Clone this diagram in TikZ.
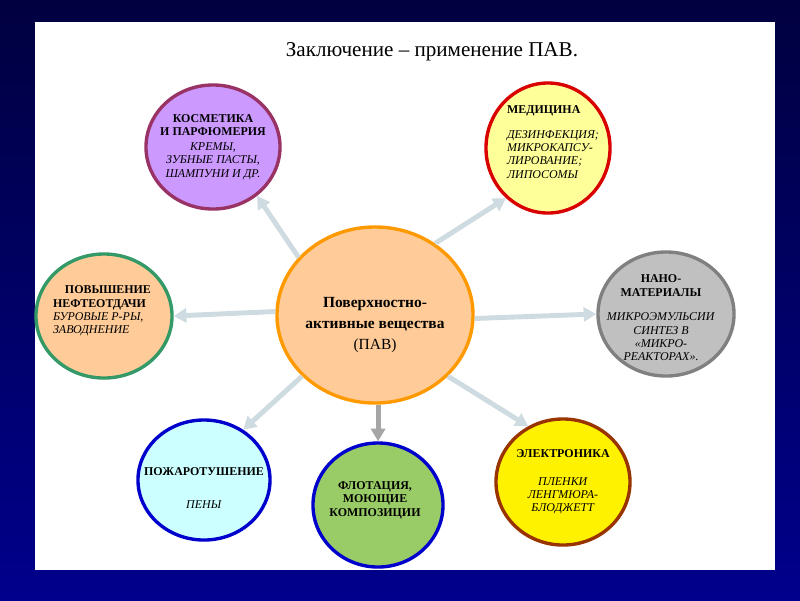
\documentclass[tikz,border=0pt]{standalone}
\usepackage{fontspec}
\setmainfont{Liberation Serif}
\usetikzlibrary{arrows.meta,shapes.geometric}

\begin{document}
\begin{tikzpicture}[
                        x=0.025cm,
                        y=-0.025cm,
                        font=\fontsize{8.5}{9.5}\selectfont,
                        field/.style={ellipse,line width=2.4pt,inner sep=0pt},
                        flow/.style={line width=3.5pt,draw=cyan!25!gray!35,
                                     -{Triangle[length=9pt,width=10pt]}},
                        txt/.style={align=center}
                    ]
                    % background and slide
                    \fill[top color=blue!25!black,bottom color=blue!55!black] (0,0) rectangle (800,600);
                    \fill[white] (35,22) rectangle (775,570);
                    \node (title) at (432,52) {\fontsize{15}{17}\selectfont Заключение -- применение ПАВ.};

                    % circles
                    \node[field,fill={rgb,255:red,204;green,153;blue,255},draw={rgb,255:red,153;green,51;blue,102},
                          minimum width=3.35cm,minimum height=3.1cm] (cos) at (213,147) {};
                    \node[field,fill={rgb,255:red,255;green,255;blue,153},draw=red!85!black,
                          minimum width=3.1cm,minimum height=3.25cm] (med) at (548,148) {};
                    \node[field,fill={rgb,255:red,255;green,204;blue,153},draw={rgb,255:red,51;green,153;blue,102},
                          minimum width=3.4cm,minimum height=3.1cm] (oil) at (104,316) {};
                    \node[field,fill={rgb,255:red,192;green,192;blue,192},draw=gray,
                          minimum width=3.4cm,minimum height=3.1cm] (nano) at (666,314) {};
                    \node[field,fill={rgb,255:red,255;green,204;blue,153},draw={rgb,255:red,255;green,153;blue,0},
                          minimum width=4.9cm,minimum height=4.4cm] (pav) at (375,315) {};
                    \node[field,fill={rgb,255:red,204;green,255;blue,255},draw=blue!80!black,
                          minimum width=3.3cm,minimum height=3.0cm] (fire) at (204,480) {};
                    \node[field,fill={rgb,255:red,153;green,204;blue,102},draw=blue!80!black,
                          minimum width=3.25cm,minimum height=3.1cm] (flot) at (378,505) {};
                    \node[field,fill=yellow,draw={rgb,255:red,153;green,51;blue,0},
                          minimum width=3.35cm,minimum height=3.15cm] (elec) at (563,482) {};

                    % texts
                    \node[txt] at (213,147) {\textbf{КОСМЕТИКА}\\\textbf{И ПАРФЮМЕРИЯ}\\[1pt]\textit{КРЕМЫ,}\\\textit{ЗУБНЫЕ ПАСТЫ,}\\\textit{ШАМПУНИ И ДР.}};
                    \node[align=left] at (553,142) {\textbf{МЕДИЦИНА}\\[8pt]\textit{ДЕЗИНФЕКЦИЯ;}\\\textit{МИКРОКАПСУ-}\\\textit{ЛИРОВАНИЕ;}\\\textit{ЛИПОСОМЫ}};
                    \node[align=left] at (102,311) {\quad\textbf{ПОВЫШЕНИЕ}\\\textbf{НЕФТЕОТДАЧИ}\\\textit{БУРОВЫЕ Р-РЫ,}\\\textit{ЗАВОДНЕНИЕ}};
                    \node[txt] at (661,318) {\textbf{НАНО-}\\\textbf{МАТЕРИАЛЫ}\\[8pt]\textit{МИКРОЭМУЛЬСИИ}\\\textit{СИНТЕЗ В}\\\textit{«МИКРО-}\\\textit{РЕАКТОРАХ».}};
                    \node[txt,font=\fontsize{11}{15}\selectfont\bfseries] at (375,325) {Поверхностно-\\активные вещества\\\mdseries(ПАВ)};
                    \node[txt] at (204,488) {\textbf{ПОЖАРОТУШЕНИЕ}\\[14pt]\textit{ПЕНЫ}};
                    \node[txt] at (375,500) {\textbf{ФЛОТАЦИЯ,}\\\textbf{МОЮЩИЕ}\\\textbf{КОМПОЗИЦИИ}};
                    \node[txt] at (563,482) {\textbf{ЭЛЕКТРОНИКА}\\[10pt]\textit{ПЛЕНКИ}\\\textit{ЛЕНГМЮРА-}\\\textit{БЛОДЖЕТТ}};

                    % arrows
                    \draw[flow] (pav.143) -- (cos.-48);
                    \draw[flow] (pav.50) -- (med.-130);
                    \draw[flow] (pav.178) -- (oil.east);
                    \draw[flow] (pav.-2) -- (nano.west);
                    \draw[flow] (pav.-140) -- (fire.52);
                    \draw[flow,draw=gray!70] (pav.-88) -- (pav.-88 |- flot.north);
                    \draw[flow] (pav.-40) -- (elec.122);
                \end{tikzpicture}
\end{document}
